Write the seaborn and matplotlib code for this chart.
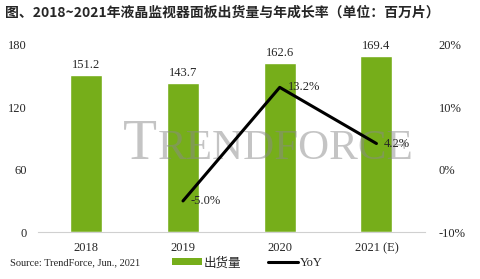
import matplotlib
matplotlib.use("Agg")
import matplotlib.pyplot as plt
import seaborn as sns
import pandas as pd
from matplotlib.patches import Patch
from matplotlib.lines import Line2D

categories = ["2018", "2019", "2020", "2021 (E)"]
shipments = [151.2, 143.7, 162.6, 169.4]
yoy_cats = ["2019", "2020", "2021 (E)"]
yoy = [-5.0, 13.2, 4.2]
left_ticks = [0, 60, 120, 180]
right_ticks = [-10, 0, 10, 20]

sns.set_theme(style="white")
serif = ["Liberation Serif", "Noto Sans CJK SC"]
plt.rcParams["font.family"] = serif

fig = plt.figure(figsize=(4.8, 2.79), dpi=100)
ax = fig.add_axes([0.079, 0.168, 0.806, 0.671])

df = pd.DataFrame({"cat": categories, "val": shipments})
sns.barplot(data=df, x="cat", y="val", ax=ax, color="#76AE1A", width=0.33,
            saturation=1, zorder=2)
ax.set_ylim(0, 180)
ax.set_xlim(-0.5, 3.5)
ax.set_yticks(left_ticks)
ax.set_yticklabels([str(t) for t in left_ticks], fontsize=9, family=serif)
ax.set_xlabel("")
ax.set_ylabel("")
ax.tick_params(axis="x", labelsize=9, length=0, pad=7)
ax.tick_params(axis="y", length=0, pad=8)
for lab in ax.get_xticklabels():
    lab.set_family(serif)
for s in ["top", "right", "left"]:
    ax.spines[s].set_visible(False)
ax.spines["bottom"].set_color("#d0d0d0")
ax.spines["bottom"].set_linewidth(0.8)
for i, v in enumerate(shipments):
    ax.text(i, v + 4, f"{v:.1f}", ha="center", va="bottom", fontsize=9, family=serif)

# watermark
wm_t = ax.text(0.22, 0.39, "T", transform=ax.transAxes, fontsize=40, color="#8a8a8a",
               alpha=0.5, family="Liberation Serif", zorder=3, va="baseline", ha="left")
fig.canvas.draw()
bb = wm_t.get_window_extent().transformed(ax.transAxes.inverted())
ax.text(bb.x1 + 0.003, 0.39, "RENDFORCE", transform=ax.transAxes, fontsize=31,
        color="#8a8a8a", alpha=0.5, family="Liberation Serif", zorder=3,
        va="baseline", ha="left")

ax2 = ax.twinx()
ax2.set_position(ax.get_position())
ydf = pd.DataFrame({"cat": [categories.index(c) for c in yoy_cats], "yoy": yoy})
sns.lineplot(data=ydf, x="cat", y="yoy", ax=ax2, color="black", linewidth=2.2, zorder=4)
ax2.set_ylim(-10, 20)
ax2.set_xlim(-0.5, 3.5)
ax2.set_yticks(right_ticks)
ax2.set_yticklabels([f"{t}%" for t in right_ticks], fontsize=9, family=serif)
ax2.tick_params(axis="y", length=0, pad=10)
ax2.set_ylabel("")
ax2.set_xlabel("")
for s in ["top", "right", "left", "bottom"]:
    ax2.spines[s].set_visible(False)
for x, v in zip(ydf["cat"], yoy):
    ax2.text(x + 0.08, v, f"{v:.1f}%", ha="left", va="center", fontsize=9,
             family=serif, zorder=5)

fig.text(0.01, 0.955, "图、2018~2021年液晶监视器面板出货量与年成长率（单位：百万片）",
         fontsize=10, fontweight="bold", family=["Noto Sans CJK SC", "DejaVu Sans"],
         va="center", ha="left")
fig.text(0.02, 0.058, "Source: TrendForce, Jun., 2021", fontsize=7.5, family=serif,
         va="center", ha="left")

handles = [Patch(facecolor="#76AE1A", edgecolor="none"),
           Line2D([0], [0], color="black", linewidth=2.2)]
leg = fig.legend(handles, ["出货量", "YoY"], loc="center left",
                 bbox_to_anchor=(0.335, 0.058), ncol=2, frameon=False,
                 handlelength=2.4, handleheight=0.5, columnspacing=2.2,
                 handletextpad=0.1,
                 prop={"family": ["Noto Sans CJK SC", "Liberation Serif"], "size": 9})
leg.get_texts()[1].set_family(serif)

fig.savefig("out.png", dpi=100)
